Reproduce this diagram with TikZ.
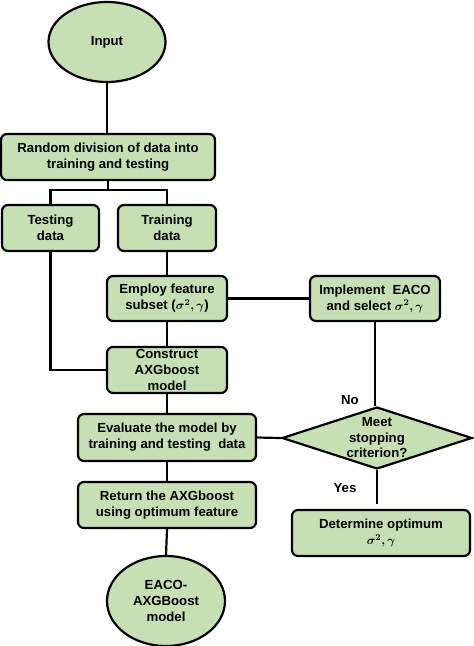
\documentclass[tikz,border=0pt]{standalone}
\usepackage{amsmath}
\usepackage{fontspec}
\setmainfont{Liberation Sans}
\usetikzlibrary{shapes.geometric}
\definecolor{boxgreen}{RGB}{198,224,180}
\tikzset{
  base/.style={draw=black, line width=2.2pt, fill=boxgreen, inner sep=0pt, align=center,
    font=\fontsize{13.2}{16}\selectfont\bfseries},
  stepbox/.style={base, rectangle, rounded corners=6pt},
  oval/.style={base, ellipse},
  decision/.style={base, diamond},
  conn/.style={line width=2.2pt, draw=black},
  lbl/.style={inner sep=0pt, font=\fontsize{13.2}{15.5}\selectfont\bfseries}
}
\begin{document}
\begin{tikzpicture}[x=1pt,y=-1pt]
\useasboundingbox (0,0) rectangle (474,646);
\node[oval, minimum width=117pt, minimum height=80pt] (input) at (107,42) {Input};
\node[stepbox, minimum width=214pt, minimum height=46pt] (rand) at (108,157) {Random division of data into\\training and testing};
\node[stepbox, minimum width=97pt, minimum height=46pt] (test) at (50.5,228) {Testing\\data};
\node[stepbox, minimum width=98pt, minimum height=46pt] (train) at (167,228) {Training\\data};
\node[stepbox, minimum width=120pt, minimum height=45pt] (employ) at (167,298.5) {Employ feature\\subset ($\boldsymbol{\sigma^2,\gamma}$)};
\node[stepbox, minimum width=130pt, minimum height=45pt] (impl) at (375,298.5) {Implement\ \ EACO\\and select $\boldsymbol{\sigma^2,\gamma}$};
\node[stepbox, minimum width=120pt, minimum height=46pt] (constr) at (167,370) {Construct\\AXGboost\\model};
\node[stepbox, minimum width=178pt, minimum height=47pt] (eval) at (167,437.5) {Evaluate the model by\\training and testing\ \ data};
\node[decision, minimum width=190pt, minimum height=62pt] (dia) at (377,438) {};
\node[lbl, align=center] (diatxt) at (377,438) {Meet\\stopping\\criterion?};
\node[stepbox, minimum width=178pt, minimum height=46pt] (ret) at (167,505) {Return the AXGboost\\using optimum feature};
\node[stepbox, minimum width=178pt, minimum height=46pt] (det) at (381,533) {Determine optimum\\$\boldsymbol{\sigma^2,\gamma}$};
\node[oval, minimum width=118pt, minimum height=90pt] (eaco) at (166,601) {EACO-\\AXGBoost\\model};
\node[lbl] (no) at (350,400) {No};
\node[lbl] (yes) at (345,488) {Yes};
\coordinate (br) at (108,190);
\draw[conn] (input.south) -- (input.south |- rand.north);
\draw[conn] (rand.south) -- (br);
\draw[conn] (test.north) |- (br) -| (train.north);
\draw[conn] (train.south) -- (employ.north);
\draw[conn] (employ.east) -- (impl.west);
\draw[conn] (employ.south) -- (constr.north);
\draw[conn] (test.south) |- (constr.west);
\draw[conn] (impl.south) -- (impl.south |- dia.north);
\draw[conn] (constr.south) -- (eval.north);
\draw[conn] (eval.east) -- (dia.west);
\draw[conn] (dia.south) -- ([yshift=5pt]dia.south |- det.north);
\draw[conn] (eval.south) -- (ret.north);
\draw[conn] (ret.south) -- (eaco.north);
\end{tikzpicture}
\end{document}
